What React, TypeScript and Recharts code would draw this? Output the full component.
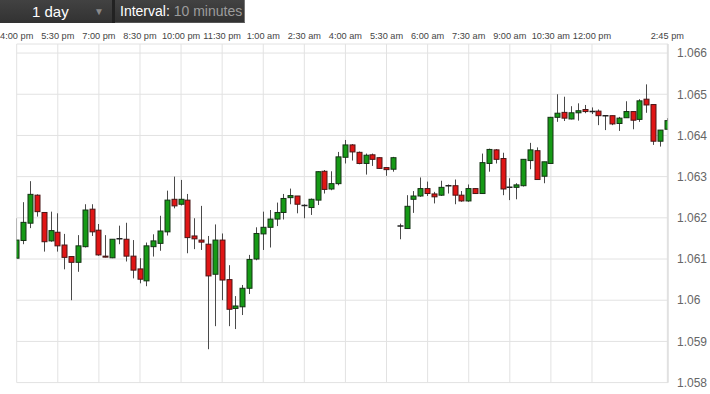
import React from 'react';
import { ComposedChart, Bar, XAxis, YAxis, CartesianGrid } from 'recharts';

// 15-minute candles
const opens = [
  1.06102, 1.06145, 1.06187, 1.06255, 1.06213, 1.06144, 1.06165, 1.06134, 1.06106, 1.06092,
  1.0613, 1.06221, 1.0617, 1.06107, 1.06103, 1.06149, 1.06148, 1.06107, 1.06076, 1.06047,
  1.0613, 1.06138, 1.06166, 1.06245, 1.06233, 1.06243, 1.06156, 1.06146, 1.06136, 1.06063,
  1.06146, 1.0605, 1.0598, 1.05984, 1.06029, 1.061, 1.06161, 1.06177, 1.06197, 1.06213,
  1.06249, 1.06253, 1.0623, 1.06225, 1.06243, 1.06313, 1.0627, 1.06283, 1.06347, 1.06377,
  1.06359, 1.06332, 1.06353, 1.06346, 1.06322, 1.06318, 1.0618, 1.06174, 1.06245, 1.06253,
  1.06271, 1.06258, 1.06255, 1.06278, 1.06278, 1.06255, 1.06241, 1.06271, 1.06259, 1.06332,
  1.06365, 1.06344, 1.06274, 1.06274, 1.06278, 1.06339, 1.06363, 1.06301, 1.06332, 1.06444,
  1.06456, 1.0644, 1.06455, 1.06463, 1.06458, 1.06459, 1.06448, 1.06448, 1.06429, 1.06443,
  1.06458, 1.06439, 1.06488, 1.06475, 1.06386, 1.06415,
];
const highs = [
  1.06199, 1.06238, 1.06289, 1.06257, 1.06213, 1.06215, 1.06211, 1.06161, 1.06106, 1.06158,
  1.06233, 1.06233, 1.06185, 1.06158, 1.06148, 1.06181, 1.06188, 1.06146, 1.06102, 1.0614,
  1.0616, 1.06205, 1.06266, 1.063, 1.06292, 1.06258, 1.06199, 1.06229, 1.06156, 1.06184,
  1.06162, 1.06085, 1.0601, 1.06037, 1.0611, 1.06177, 1.06215, 1.06219, 1.06237, 1.06258,
  1.06271, 1.06253, 1.06233, 1.06247, 1.06313, 1.06316, 1.06313, 1.0636, 1.06389, 1.06379,
  1.06361, 1.06356, 1.06356, 1.06347, 1.06323, 1.06348, 1.06186, 1.06255, 1.06265, 1.06298,
  1.06288, 1.06263, 1.0629, 1.06281, 1.06293, 1.06265, 1.06281, 1.06272, 1.06356, 1.06368,
  1.06367, 1.06358, 1.06296, 1.06284, 1.06342, 1.06382, 1.06371, 1.06336, 1.06445, 1.065,
  1.06494, 1.06471, 1.06478, 1.06474, 1.06468, 1.06463, 1.06448, 1.06448, 1.06445, 1.06483,
  1.06458, 1.06488, 1.06524, 1.06475, 1.06413, 1.06442,
];
const lows = [
  1.06102, 1.06136, 1.06175, 1.06203, 1.06118, 1.06142, 1.06118, 1.06075, 1.06, 1.06069,
  1.06128, 1.06156, 1.06108, 1.06104, 1.06102, 1.06136, 1.06094, 1.06053, 1.06041, 1.06034,
  1.06106, 1.0612, 1.06157, 1.06223, 1.0623, 1.06114, 1.06124, 1.06122, 1.05881, 1.05937,
  1.06, 1.05937, 1.0593, 1.05964, 1.06015, 1.06097, 1.06122, 1.06128, 1.0618, 1.06196,
  1.06233, 1.06211, 1.06199, 1.06207, 1.06231, 1.06259, 1.06267, 1.06279, 1.06332, 1.06339,
  1.0633, 1.06305, 1.06326, 1.06319, 1.06302, 1.06312, 1.06148, 1.06173, 1.06212, 1.06251,
  1.06253, 1.06235, 1.06253, 1.06259, 1.06233, 1.06239, 1.06239, 1.06258, 1.06258, 1.06312,
  1.06332, 1.06255, 1.06243, 1.06245, 1.06276, 1.06318, 1.06293, 1.06284, 1.06332, 1.06433,
  1.06435, 1.06439, 1.06436, 1.06454, 1.06452, 1.06425, 1.06413, 1.06425, 1.06411, 1.06443,
  1.06415, 1.06433, 1.06455, 1.06377, 1.06373, 1.06415,
];
const closes = [
  1.06146, 1.06189, 1.06257, 1.06215, 1.06142, 1.06169, 1.06132, 1.06104, 1.06092, 1.06132,
  1.06219, 1.06166, 1.0611, 1.06105, 1.06148, 1.06149, 1.06107, 1.06073, 1.06051, 1.06132,
  1.06144, 1.06168, 1.06243, 1.06229, 1.06245, 1.06152, 1.06149, 1.06141, 1.06059, 1.06146,
  1.06049, 1.05978, 1.05986, 1.06029, 1.06099, 1.06162, 1.06177, 1.06197, 1.06213, 1.06247,
  1.06254, 1.06233, 1.0623, 1.06245, 1.06312, 1.06269, 1.06283, 1.06348, 1.06377, 1.0636,
  1.06332, 1.06352, 1.06342, 1.0632, 1.06317, 1.06346, 1.0618, 1.06228, 1.06253, 1.06271,
  1.06259, 1.06251, 1.06274, 1.06278, 1.06255, 1.06241, 1.06271, 1.06259, 1.06334, 1.06366,
  1.06342, 1.0627, 1.06274, 1.0628, 1.06342, 1.06365, 1.06293, 1.06336, 1.06444, 1.06454,
  1.06442, 1.06455, 1.0646, 1.06458, 1.06458, 1.06448, 1.06448, 1.06428, 1.06442, 1.06458,
  1.06437, 1.06484, 1.06474, 1.06386, 1.06413, 1.06436,
];

const timeLabels = [
  '4:00 pm', '5:30 pm', '7:00 pm', '8:30 pm', '10:00 pm', '11:30 pm', '1:00 am', '2:30 am',
  '4:00 am', '5:30 am', '6:00 am', '7:30 am', '9:00 am', '10:30 am', '12:00 pm', '2:45 pm',
];
const labelCandles = [0, 6, 12, 18, 24, 30, 36, 42, 48, 54, 60, 66, 72, 78, 84, 95];
const priceTicks = [1.058, 1.059, 1.06, 1.061, 1.062, 1.063, 1.064, 1.065, 1.066];

const data = opens.map((o, i) => ({
  i,
  open: o,
  high: highs[i],
  low: lows[i],
  close: closes[i],
}));

const UP = '#169a16';
const DOWN = '#e01515';

function Candle(props: any) {
  const { x, y, width, height, payload } = props;
  const { open, high, low, close } = payload;
  const top = Math.min(y, y + height);
  const h = Math.abs(height);
  const range = high - low;
  const py = (v: number) => (range === 0 ? top : top + ((high - v) / range) * h);
  const cx = Math.round(x + width / 2) + 0.5;

  const bodyTop = py(Math.max(open, close));
  const bodyBot = py(Math.min(open, close));
  const up = close > open;
  const flat = open === close;

  return (
    <g>
      <line x1={cx} x2={cx} y1={top} y2={top + h} stroke="#4a4a4a" strokeWidth={1} />
      {flat ? (
        <line x1={cx - 3} x2={cx + 3} y1={bodyTop} y2={bodyTop} stroke="#222" strokeWidth={1.5} />
      ) : (
        <rect
          x={cx - 2.5}
          y={bodyTop}
          width={5}
          height={Math.max(bodyBot - bodyTop, 1)}
          fill={up ? UP : DOWN}
          stroke={up ? '#143214' : '#4a1616'}
          strokeWidth={1}
        />
      )}
    </g>
  );
}

const fontStack = 'Arial, "Liberation Sans", sans-serif';

export default function App() {
  return (
    <div
      style={{
        position: 'absolute',
        left: 0,
        top: 0,
        width: 710,
        height: 394,
        background: '#fff',
        fontFamily: fontStack,
        overflow: 'hidden',
      }}
    >
      {/* toolbar */}
      <div style={{ position: 'absolute', left: 0, top: 0, height: 23, display: 'flex', zIndex: 2 }}>
        <div
          style={{
            width: 112,
            height: 23,
            background: 'linear-gradient(#424242, #323232)',
            color: '#fff',
            fontSize: 15,
            lineHeight: '23px',
            position: 'relative',
          }}
        >
          <span style={{ position: 'absolute', left: 32 }}>1 day</span>
          <span style={{ position: 'absolute', left: 94, fontSize: 10, color: '#8a8a8a' }}>▼</span>
        </div>
        <div style={{ width: 3, height: 23, background: '#222' }} />
        <div
          style={{
            width: 124,
            height: 22,
            background: 'linear-gradient(#424242, #323232)',
            borderRight: '1px solid #777',
            borderBottom: '1px solid #555',
            color: '#fff',
            fontSize: 14,
            lineHeight: '22px',
            paddingLeft: 5,
            boxSizing: 'content-box',
            whiteSpace: 'nowrap',
          }}
        >
          <span>Interval: </span>
          <span style={{ color: '#9c9c9c' }}>10 minutes</span>
        </div>
      </div>

      <div style={{ position: 'absolute', left: 0, top: 0 }}>
        <ComposedChart
          width={710}
          height={394}
          data={data}
          margin={{ top: 0, right: 0, bottom: 11.4, left: 16.7 }}
        >
          <CartesianGrid stroke="#e2e2e2" />
          <XAxis
            type="number"
            dataKey="i"
            orientation="top"
            domain={[0, 95.1]}
            ticks={labelCandles}
            interval={0}
            allowDataOverflow
            height={44}
            axisLine={false}
            tickLine={false}
            tickSize={0}
            tickMargin={5}
            tick={{ fontSize: 9.2, fill: '#444', fontFamily: fontStack }}
            tickFormatter={(v: number) => timeLabels[labelCandles.indexOf(v)] ?? ''}
          />
          <YAxis
            orientation="right"
            width={42}
            domain={[1.058, 1.06622]}
            ticks={priceTicks}
            allowDataOverflow
            interval={0}
            axisLine={{ stroke: '#dcdcdc' }}
            tickLine={false}
            tickSize={0}
            tickMargin={9}
            tick={{ fontSize: 12, fill: '#666', fontFamily: fontStack }}
            tickFormatter={(v: number) => String(Number(v.toFixed(3)))}
          />
          <Bar
            dataKey={(d: any) => [d.low, d.high]}
            barSize={6}
            shape={(p: any) => <Candle {...p} />}
            isAnimationActive={false}
          />
        </ComposedChart>
      </div>
    </div>
  );
}
